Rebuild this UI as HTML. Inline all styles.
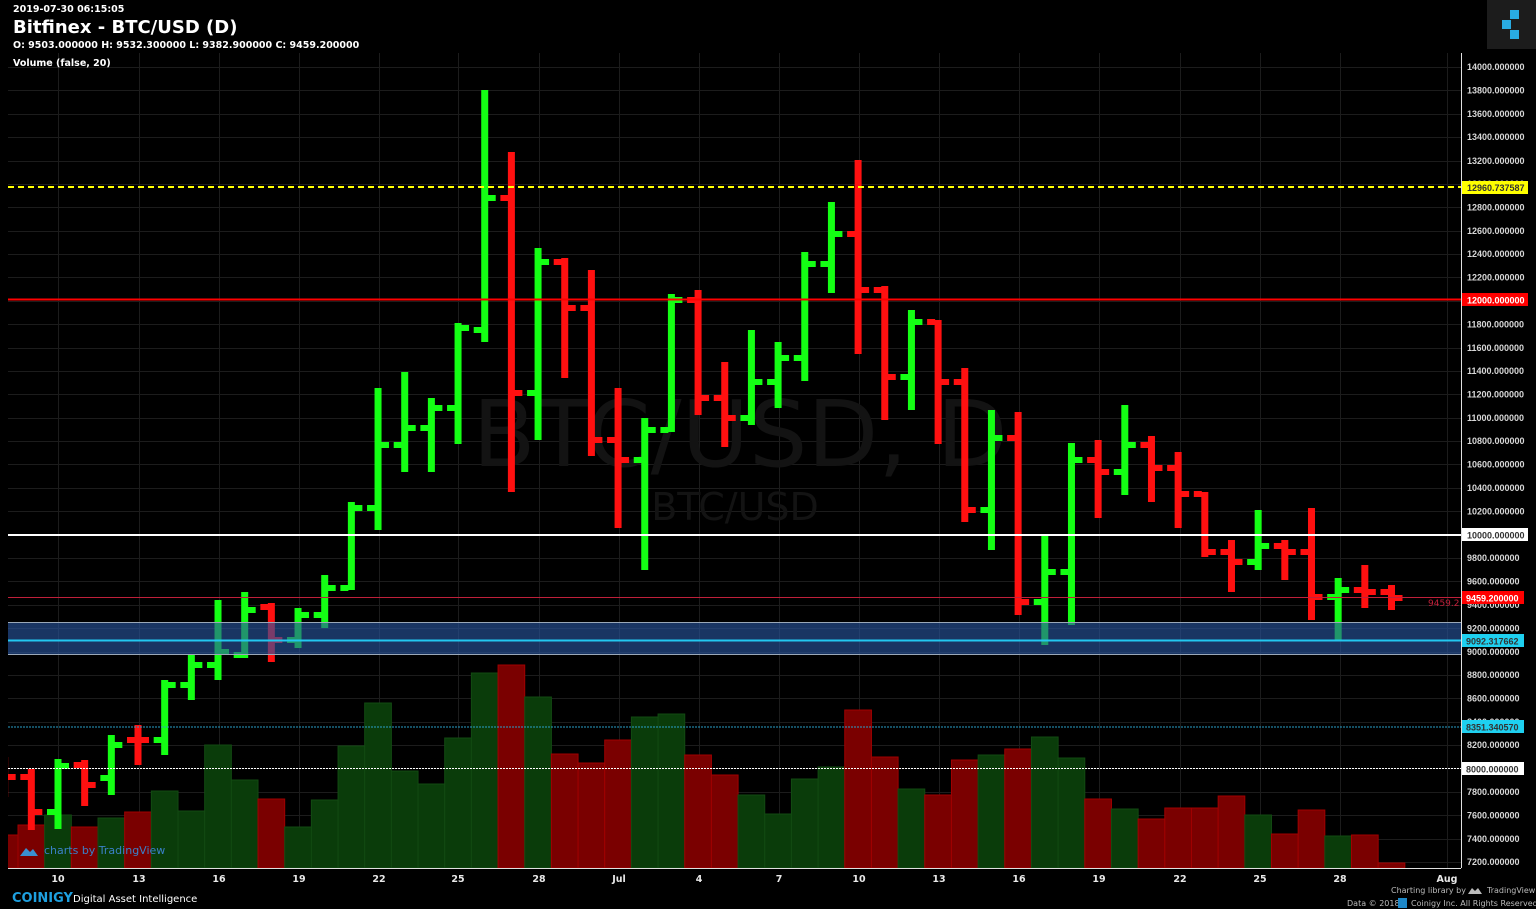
<!DOCTYPE html>
<html><head><meta charset="utf-8"><style>
html,body{margin:0;padding:0;background:#000;width:1536px;height:909px;overflow:hidden}
svg{display:block}
text{font-family:"DejaVu Sans","Liberation Sans",sans-serif}
.ax text,.lb{font-family:"Liberation Sans",sans-serif;font-size:9px;font-weight:bold}
.ax{fill:#d8d8d8}
.dt{fill:#e8e8e8;font-size:9.5px;font-weight:bold}
</style></head><body>
<svg id="s" width="1536" height="909" viewBox="0 0 1536 909" xmlns="http://www.w3.org/2000/svg">
<defs><clipPath id="pc"><rect x="8" y="53" width="1453" height="815"/></clipPath></defs>
<g id="grid"></g>
<text x="740" y="466" font-size="92" fill="#131313" text-anchor="middle" font-family="Liberation Sans,sans-serif">BTC/USD, D</text>
<text x="735" y="520" font-size="38" fill="#131313" text-anchor="middle" font-family="Liberation Sans,sans-serif">BTC/USD</text>
<g id="vol" clip-path="url(#pc)"></g>
<g id="bars" clip-path="url(#pc)"></g>
<rect x="8" y="622" width="1453" height="33" fill="rgba(40,85,160,0.62)"/>
<line x1="8" y1="622.5" x2="1461" y2="622.5" stroke="#9aa8b8" stroke-width="1"/>
<line x1="8" y1="654.5" x2="1461" y2="654.5" stroke="#9aa8b8" stroke-width="1"/>
<line x1="8" y1="640.5" x2="1461" y2="640.5" stroke="#22c8f0" stroke-width="2"/>
<line x1="8" y1="187" x2="1461" y2="187" stroke="#ffff00" stroke-width="2" stroke-dasharray="6,4"/>
<line x1="8" y1="299.5" x2="1461" y2="299.5" stroke="#ff0000" stroke-width="2"/>
<line x1="8" y1="535" x2="1461" y2="535" stroke="#ffffff" stroke-width="2"/>
<line x1="8" y1="597.5" x2="1461" y2="597.5" stroke="#c0203a" stroke-width="1"/>
<line x1="8" y1="727" x2="1461" y2="727" stroke="#2aa0c8" stroke-width="1" stroke-dasharray="2,1"/>
<line x1="8" y1="768.5" x2="1461" y2="768.5" stroke="#ffffff" stroke-width="1" stroke-dasharray="2,1"/>
<line x1="1461.5" y1="53" x2="1461.5" y2="868" stroke="#e0e0e0" stroke-width="1"/>
<line x1="8" y1="868.5" x2="1461" y2="868.5" stroke="#e0e0e0" stroke-width="1"/>
<g class="ax">
<text x="1467" y="70">14000.000000</text><text x="1467" y="93.5">13800.000000</text><text x="1467" y="117">13600.000000</text><text x="1467" y="140">13400.000000</text><text x="1467" y="164">13200.000000</text><text x="1467" y="187">13000.000000</text><text x="1467" y="210.5">12800.000000</text><text x="1467" y="234">12600.000000</text><text x="1467" y="257">12400.000000</text><text x="1467" y="280.5">12200.000000</text><text x="1467" y="327.5">11800.000000</text><text x="1467" y="351">11600.000000</text><text x="1467" y="374">11400.000000</text><text x="1467" y="397.5">11200.000000</text><text x="1467" y="421">11000.000000</text><text x="1467" y="444">10800.000000</text><text x="1467" y="467.5">10600.000000</text><text x="1467" y="491">10400.000000</text><text x="1467" y="514.5">10200.000000</text><text x="1467" y="561">9800.000000</text><text x="1467" y="584.5">9600.000000</text><text x="1467" y="608">9400.000000</text><text x="1467" y="631.5">9200.000000</text><text x="1467" y="655">9000.000000</text><text x="1467" y="678">8800.000000</text><text x="1467" y="701.5">8600.000000</text><text x="1467" y="725">8400.000000</text><text x="1467" y="748">8200.000000</text><text x="1467" y="795">7800.000000</text><text x="1467" y="818.5">7600.000000</text><text x="1467" y="842">7400.000000</text><text x="1467" y="865">7200.000000</text>
</g>
<rect x="1462" y="181" width="66" height="13" fill="#ffff00"/><text class="lb" x="1467" y="191" fill="#333">12960.737587</text>
<rect x="1462" y="293" width="66" height="13" fill="#ff0000"/><text class="lb" x="1467" y="303.5" fill="#fff">12000.000000</text>
<rect x="1462" y="528" width="66" height="13" fill="#ffffff"/><text class="lb" x="1467" y="538.5" fill="#333">10000.000000</text>
<rect x="1462" y="591" width="62" height="13" fill="#ff0000"/><text class="lb" x="1466" y="601.5" fill="#fff">9459.200000</text>
<rect x="1462" y="634" width="62" height="13" fill="#1ed0f0"/><text class="lb" x="1466" y="644.5" fill="#333">9092.317662</text>
<rect x="1462" y="720" width="62" height="13" fill="#1ed0f0"/><text class="lb" x="1466" y="730.5" fill="#333">8351.340570</text>
<rect x="1462" y="762" width="62" height="13" fill="#ffffff"/><text class="lb" x="1466" y="772.5" fill="#333">8000.000000</text>
<text x="1428" y="606" font-size="9" fill="#c0203a" font-family="Liberation Sans,sans-serif">9459.2</text>
<g class="dt" text-anchor="middle">
<text x="58" y="882">10</text><text x="139" y="882">13</text><text x="219" y="882">16</text><text x="299" y="882">19</text><text x="379" y="882">22</text><text x="458" y="882">25</text><text x="539" y="882">28</text><text x="619" y="882">Jul</text><text x="699" y="882">4</text><text x="779" y="882">7</text><text x="859" y="882">10</text><text x="939" y="882">13</text><text x="1019" y="882">16</text><text x="1099" y="882">19</text><text x="1180" y="882">22</text><text x="1260" y="882">25</text><text x="1340" y="882">28</text><text x="1447" y="882">Aug</text>
</g>
<text x="13" y="12" font-size="9.5" fill="#fff" font-weight="bold">2019-07-30 06:15:05</text>
<text x="13" y="33" font-size="18" fill="#fff" font-weight="bold">Bitfinex - BTC/USD (D)</text>
<text x="13" y="48" font-size="9.5" fill="#fff" font-weight="bold">O: 9503.000000 H: 9532.300000 L: 9382.900000 C: 9459.200000</text>
<text x="13" y="66" font-size="9.5" fill="#fff" font-weight="bold">Volume (false, 20)</text>
<rect x="1487" y="0" width="49" height="49" fill="#1c1c1c"/>
<rect x="1510" y="10" width="9" height="9" fill="#29abe2"/><rect x="1502" y="20" width="9" height="9" fill="#29abe2"/><rect x="1510" y="30" width="9" height="9" fill="#29abe2"/>
<path d="M20 856 l6 -8 l4 4 l3 -3 l5 7 z" fill="#3a8fd0"/>
<text x="44" y="854" font-size="11" fill="#3a80c8">charts by TradingView</text>
<text x="12" y="902" font-size="13" fill="#1ea0e0" font-weight="bold">COINIGY</text>
<text x="73" y="902" font-size="10" fill="#fff">Digital Asset Intelligence</text>
<text x="1391" y="893" font-size="8" fill="#bbb">Charting library by</text>
<path d="M1468 894 l4 -6 l3 3 l3 -3 l4 6 z" fill="#bbb"/>
<text x="1487" y="893" font-size="8" fill="#bbb">TradingView</text>
<text x="1347" y="906" font-size="8" fill="#bbb">Data © 2018</text>
<rect x="1398" y="898" width="9" height="10" fill="#1e88c8"/>
<text x="1411" y="906" font-size="8" fill="#bbb">Coinigy Inc. All Rights Reserved.</text>
</svg>
<script>
var NS="http://www.w3.org/2000/svg";
function R(g,x,y,w,h,f,st){var r=document.createElementNS(NS,"rect");r.setAttribute("x",x);r.setAttribute("y",y);r.setAttribute("width",w);r.setAttribute("height",h);r.setAttribute("fill",f);if(st){r.setAttribute("stroke",st);r.setAttribute("stroke-width",1);}document.getElementById(g).appendChild(r);}
function L(g,x1,y1,x2,y2,c){var l=document.createElementNS(NS,"line");l.setAttribute("x1",x1);l.setAttribute("y1",y1);l.setAttribute("x2",x2);l.setAttribute("y2",y2);l.setAttribute("stroke",c);l.setAttribute("stroke-width",1);document.getElementById(g).appendChild(l);}
for(var i=0;i<35;i++){var y=Math.round(67+i*23.38)+0.5;L("grid",8,y,1461,y,"#1c1c1c");}
[58,139,219,299,379,458,539,619,699,779,859,939,1019,1099,1180,1260,1340,1447].forEach(function(x){L("grid",x+0.5,53,x+0.5,868,"#1c1c1c");});
var D=[[760,757,797,777],[777,769,830,812],[812,759,829,766],[765,760,806,785],[778,735,795,745],[740,725,765,740],[740,680,755,685],[685,655,700,665],[665,600,680,652],[655,592,658,610],[607,603,662,640],[640,608,648,615],[615,575,628,588],[588,502,590,508],[508,388,530,445],[445,372,472,428],[428,398,472,408],[408,323,444,328],[330,90,342,198],[198,152,492,393],[393,248,440,262],[262,258,378,308],[308,270,456,440],[440,388,528,460],[460,418,570,430],[430,294,432,300],[300,290,415,398],[398,362,447,418],[418,330,425,382],[382,342,408,358],[358,252,381,264],[264,202,293,234],[234,160,354,290],[290,286,420,377],[377,310,410,322],[322,320,444,382],[382,368,522,510],[510,410,550,438],[438,412,615,602],[602,535,645,572],[572,443,625,460],[460,440,518,472],[472,405,495,445],[445,436,502,468],[468,452,528,494],[494,492,557,552],[552,540,592,562],[562,510,570,546],[546,540,580,552],[552,508,620,597],[597,578,640,590],[590,565,608,592],[592,585,610,598]];
var V=[835,825,815,827,818,812,791,811,745,780,799,827,800,746,703,771,784,738,673,665,697,754,763,740,717,714,755,775,795,814,779,767,710,757,789,795,760,755,749,737,758,799,809,819,808,808,796,815,834,810,836,835,863];
var dx=26.67;
for(var k=0;k<D.length;k++){
 var x=58+(k-2)*dx, d=D[k], up=d[3]<d[0];
 var vc=up?"#0a3c0a":"#7a0000", vs=up?"#124a12":"#a00000";
 R("vol",x-dx/2,V[k],dx,868-V[k],vc,vs);
 var c=up?"#14ff14":"#ff1010";
 R("bars",x-3.5,d[1],7,d[2]-d[1],c);
 R("bars",x-11,d[0]-3,8,6,c);
 R("bars",x+3,d[3]-3,8,6,c);
}
</script>
</body></html>
